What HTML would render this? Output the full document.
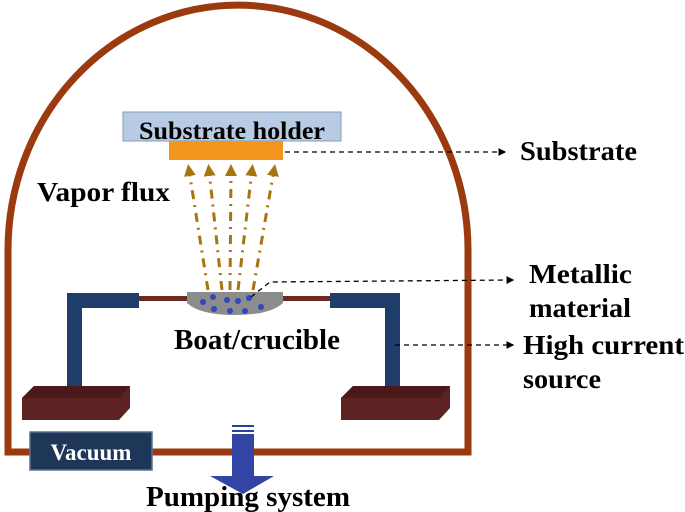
<!DOCTYPE html>
<html><head><meta charset="utf-8"><style>
html,body{margin:0;padding:0;background:#fff}
svg{display:block}
text{font-family:"Liberation Serif",serif;font-weight:bold;fill:#000}
</style></head><body>
<svg width="685" height="512" viewBox="0 0 685 512" xmlns="http://www.w3.org/2000/svg">
<defs>
<marker id="ah" markerWidth="6" markerHeight="6" refX="5" refY="3" orient="auto"><path d="M0,0 L6,3 L0,6 z" fill="#000"/></marker>
<marker id="ab" markerWidth="4" markerHeight="4" refX="2" refY="2" orient="auto"><path d="M0,0 L4,2 L0,4 z" fill="#a87412"/></marker>
</defs>
<path d="M8,452 L8,250 A230,245 0 0 1 468,250 L468,452 Z" fill="none" stroke="#9a3a0e" stroke-width="7"/>
<rect x="123" y="112" width="218" height="29" fill="#b7cce4" stroke="#8a9bb0" stroke-width="1"/>
<text x="232" y="139" font-size="25" text-anchor="middle" textLength="186" lengthAdjust="spacingAndGlyphs">Substrate holder</text>
<rect x="169" y="141" width="114" height="19" fill="#f2961e"/>
<g stroke="#a87412" stroke-width="3" stroke-dasharray="9,6,2,6" fill="none" marker-end="url(#ab)">
<line x1="208" y1="290" x2="189" y2="170"/>
<line x1="222" y1="290" x2="209" y2="170"/>
<line x1="230" y1="290" x2="231" y2="170"/>
<line x1="238" y1="290" x2="252" y2="170"/>
<line x1="253" y1="290" x2="274" y2="170"/>
</g>
<text x="37" y="201" font-size="27" textLength="133" lengthAdjust="spacingAndGlyphs">Vapor flux</text>
<line x1="285" y1="152" x2="505" y2="152" stroke="#000" stroke-width="1.3" stroke-dasharray="5,4" marker-end="url(#ah)"/>
<text x="520" y="160" font-size="27" textLength="117" lengthAdjust="spacingAndGlyphs">Substrate</text>
<rect x="139" y="296" width="191" height="5" fill="#6e2a22"/>
<path d="M187,292 L283,292 L283,303 Q270,315 235,315 Q200,315 187,303 Z" fill="#8c8c8c"/>
<g fill="#2e48c0">
<circle cx="203" cy="302" r="3"/><circle cx="213" cy="297" r="3"/><circle cx="227" cy="300" r="3"/><circle cx="238" cy="301" r="3"/><circle cx="249" cy="298" r="3"/>
<circle cx="214" cy="309" r="3"/><circle cx="230" cy="311" r="3"/><circle cx="245" cy="311" r="3"/><circle cx="261" cy="307" r="3"/>
</g>
<polyline points="251,297 270,282 513,280" fill="none" stroke="#000" stroke-width="1.3" stroke-dasharray="5,4" marker-end="url(#ah)"/>
<text x="529" y="283" font-size="27" textLength="103" lengthAdjust="spacingAndGlyphs">Metallic</text>
<text x="529" y="317" font-size="27" textLength="102" lengthAdjust="spacingAndGlyphs">material</text>
<text x="174" y="349" font-size="28" textLength="166" lengthAdjust="spacingAndGlyphs">Boat/crucible</text>
<path d="M67,293 L139,293 L139,308 L82,308 L82,398 L67,398 Z" fill="#1f3d6b"/>
<path d="M330,293 L400,293 L400,393 L385,393 L385,308 L330,308 Z" fill="#1f3d6b"/>
<path d="M22,398 L34,386 L130,386 L130,408 L119,420 L22,420 Z" fill="#5e2222"/>
<path d="M22,398 L34,386 L130,386 L119,398 Z" fill="#4a1a1a"/>
<path d="M341,398 L353,386 L450,386 L450,408 L439,420 L341,420 Z" fill="#5e2222"/>
<path d="M341,398 L353,386 L450,386 L439,398 Z" fill="#4a1a1a"/>
<line x1="395" y1="345" x2="513" y2="345" stroke="#000" stroke-width="1.3" stroke-dasharray="5,4" marker-end="url(#ah)"/>
<text x="523" y="354" font-size="27" textLength="161" lengthAdjust="spacingAndGlyphs">High current</text>
<text x="523" y="388" font-size="27" textLength="78" lengthAdjust="spacingAndGlyphs">source</text>
<rect x="30" y="432" width="122" height="38" fill="#1e3658" stroke="#5a7090" stroke-width="1.5"/>
<text x="91" y="460" font-size="23" text-anchor="middle" style="fill:#fff">Vacuum</text>
<rect x="232" y="425" width="22" height="2" fill="#2e3f9a"/>
<rect x="232" y="430" width="22" height="2" fill="#2e3f9a"/>
<path d="M232,434 L254,434 L254,476 L274,476 L243,494 L210,476 L232,476 Z" fill="#3244a4"/>
<text x="146" y="506" font-size="28" textLength="204" lengthAdjust="spacingAndGlyphs">Pumping system</text>
</svg>
</body></html>
